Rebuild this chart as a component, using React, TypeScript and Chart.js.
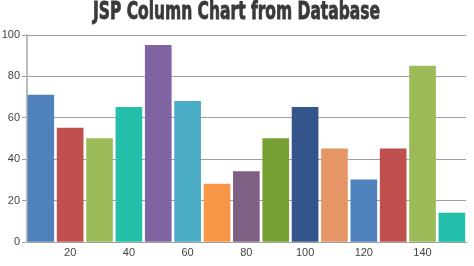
import React, { useEffect, useRef } from "react";
import { Chart, registerables } from "chart.js";

Chart.register(...registerables);

const TITLE = "JSP Column Chart from Database";
const xValues = [10, 20, 30, 40, 50, 60, 70, 80, 90, 100, 110, 120, 130, 140, 150];
const yValues = [71, 55, 50, 65, 95, 68, 28, 34, 50, 65, 45, 30, 45, 85, 14];
const barColors = [
  "#4F81BC", "#C0504E", "#9BBB58", "#23BFAA", "#8064A1", "#4AACC5", "#F79647",
  "#7F6084", "#77A033", "#33558B", "#E59566", "#4F81BC", "#C0504E", "#9BBB58", "#23BFAA",
];
const xTickValues = [20, 40, 60, 80, 100, 120, 140];
const yTickValues = [0, 20, 40, 60, 80, 100];

const titlePlugin = {
  id: "customTitle",
  afterDraw(chart: any) {
    const ctx = chart.ctx;
    ctx.save();
    ctx.font = "bold 24px 'Liberation Sans Narrow', 'DejaVu Sans Condensed', sans-serif";
    ctx.fillStyle = "#3A3A3A";
    ctx.strokeStyle = "#3A3A3A";
    ctx.lineWidth = 0.8;
    ctx.textAlign = "center";
    ctx.textBaseline = "middle";
    const w = ctx.measureText(TITLE).width;
    const target = 287;
    const sx = target / w;
    ctx.translate(236.5, 13);
    ctx.scale(sx, 1);
    ctx.fillText(TITLE, 0, 0);
    ctx.strokeText(TITLE, 0, 0);
    ctx.restore();
  },
};

export default function App() {
  const ref = useRef<HTMLCanvasElement>(null);
  useEffect(() => {
    document.body.style.margin = "0";
    const chart = new Chart(ref.current!, {
      type: "bar",
      data: {
        datasets: [
          {
            data: xValues.map((x, i) => ({ x, y: yValues[i] })),
            backgroundColor: barColors,
            barThickness: 26,
            borderWidth: 0,
          },
        ],
      },
      options: {
        animation: false,
        responsive: false,
        maintainAspectRatio: false,
        layout: { padding: { top: 35, right: 8, left: 0, bottom: 0 } },
        plugins: { legend: { display: false }, title: { display: false }, tooltip: { enabled: false } },
        scales: {
          x: {
            type: "linear",
            min: 5.3,
            max: 154.8,
            offset: false,
            afterFit(scale: any) {
              scale.height = 24;
            },
            afterBuildTicks(scale: any) {
              scale.ticks = xTickValues.map((v) => ({ value: v }));
            },
            grid: { display: false, drawTicks: false },
            border: { display: true, color: "#A0A0A0", width: 1 },
            ticks: {
              padding: 4,
              color: "#444",
              font: { family: "'Liberation Sans', Arial, sans-serif", size: 11 },
              maxRotation: 0,
              autoSkip: false,
            },
          },
          y: {
            min: 0,
            max: 100,
            afterFit(scale: any) {
              scale.width = 27;
            },
            afterBuildTicks(scale: any) {
              scale.ticks = yTickValues.map((v) => ({ value: v }));
            },
            grid: { color: "#A0A0A0", tickLength: 5, drawTicks: true },
            border: { display: true, color: "#BBBBBB", width: 2 },
            ticks: {
              padding: 2,
              color: "#444",
              font: { family: "'Liberation Sans', Arial, sans-serif", size: 11 },
            },
          },
        },
      },
      plugins: [titlePlugin],
    });
    return () => chart.destroy();
  }, []);
  return (
    <div style={{ width: 474, height: 266 }}>
      <canvas ref={ref} width={474} height={266} style={{ display: "block" }} />
    </div>
  );
}
